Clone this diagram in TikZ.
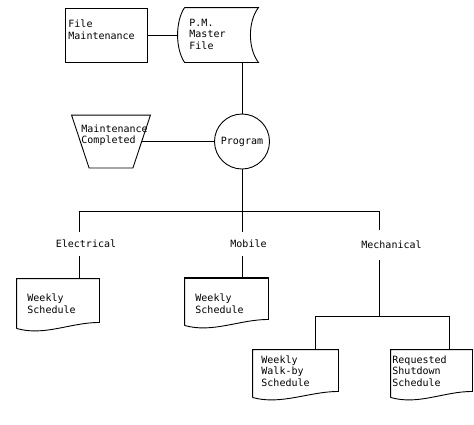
\documentclass[tikz,border=0pt]{standalone}
\usepackage{fontspec}
\setmonofont{DejaVu Sans Mono}
\usepackage{tikz}
\usetikzlibrary{shapes,positioning,calc}

% document symbol (wavy bottom)
\newcommand{\docoutline}[1]{%
  \draw (#1.south west) -- (#1.north west) -- (#1.north east)
    -- ([yshift=6pt]#1.south east)
    .. controls ([xshift=-29pt,yshift=6pt]#1.south east) and ([xshift=28pt,yshift=-8pt]#1.south west) .. (#1.south west);}
% stored data symbol
\newcommand{\storeoutline}[1]{%
  \draw ([xshift=7pt]#1.north west) -- (#1.north east)
    .. controls ([xshift=-10.7pt,yshift=-14pt]#1.north east) and ([xshift=-10.7pt,yshift=14pt]#1.south east) .. (#1.south east)
    -- ([xshift=7pt]#1.south west)
    .. controls ([xshift=-2.3pt,yshift=14pt]#1.south west) and ([xshift=-2.3pt,yshift=-14pt]#1.north west) .. ([xshift=7pt]#1.north west);}
% manual operation symbol
\newcommand{\manualoutline}[1]{%
  \draw (#1.north west) -- (#1.north east) -- ([xshift=-17.5pt]#1.south east)
    -- ([xshift=17.5pt]#1.south west) -- cycle;}

\begin{document}
\begin{tikzpicture}[x=1pt, y=-1pt, line width=0.9pt,
    box/.style={draw, minimum width=82pt, minimum height=54pt, inner sep=0pt},
    store/.style={minimum width=80pt, minimum height=54pt, inner sep=0pt},
    doc/.style={minimum width=82pt, minimum height=49pt, inner sep=0pt},
    manual/.style={minimum width=78pt, minimum height=52pt, inner sep=0pt},
    proc/.style={circle, draw, minimum size=55pt, inner sep=0pt, font=\ttfamily\fontsize{10}{11.7}\selectfont},
    txt/.style={font=\ttfamily\fontsize{10}{11.7}\selectfont, align=left, inner sep=0pt, anchor=north west},
    tag/.style={font=\ttfamily\fontsize{10}{11.7}\selectfont, minimum height=24pt, inner sep=0pt}]
    \useasboundingbox (0,0) rectangle (474,424);

    % top row
    \node[box] (fm) at (106,35) {};
    \node[txt] (fmtxt) at (68,19.5) {File\\Maintenance};
    \node[store] (pm) at (218,35) {};
    \storeoutline{pm}
    \node[txt] (pmtxt) at (189,18.5) {P.M.\\Master\\File};
    \draw (fm) -- (pm);

    % program
    \node[proc] (prog) at (242,141.5) {Program};
    \node[manual] (mc) at (111,141.5) {};
    \manualoutline{mc}
    \node[txt] (mctxt) at (81,124) {Maintenance\\Completed};
    \draw (pm.south -| prog) -- (prog);
    \draw ([xshift=-8.75pt]mc.east) -- (prog);

    % branches
    \coordinate (busE) at (79,211);
    \coordinate (busM) at (242,211);
    \coordinate (busK) at (379,211);
    \draw (prog) -- (busM);
    \draw (busE) -- (busK);

    \node[tag] (elec) at (86,244) {Electrical};
    \node[tag] (mob) at (248.5,244) {Mobile};
    \node[tag, minimum height=30pt] (mech) at (391.5,245) {Mechanical};

    \node[doc] (wsE) at (58,303.5) {};
    \docoutline{wsE}
    \node[txt] (wsEtxt) at (27,293.5) {Weekly\\Schedule};
    \node[doc, minimum width=83pt, minimum height=47pt] (wsM) at (226.5,301.5) {};
    \docoutline{wsM}
    \draw[line width=2pt] (wsM.north west) -- (wsM.north east);
    \node[txt] (wsMtxt) at (195,293.5) {Weekly\\Schedule};

    \draw (busE) -- (busE |- elec.north);
    \draw (busE |- elec.south) -- (busE |- wsE.north);
    \draw (busM) -- (busM |- mob.north);
    \draw (busM |- mob.south) -- (busM |- wsM.north);
    \draw (busK) -- (busK |- mech.north);

    % mechanical
    \coordinate (subM) at (379,316);
    \coordinate (subL) at (315,316);
    \coordinate (subR) at (449,316);
    \draw (busK |- mech.south) -- (subM);
    \draw (subL) -- (subR);

    \node[doc, minimum width=85pt, minimum height=47pt] (wwb) at (295.5,373.5) {};
    \docoutline{wwb}
    \node[txt] (wwbtxt) at (261,355) {Weekly\\Walk-by\\Schedule};
    \node[doc, minimum width=81pt, minimum height=47pt] (rsd) at (431.5,373.5) {};
    \docoutline{rsd}
    \node[txt] (rsdtxt) at (392,355) {Requested\\Shutdown\\Schedule};
    \draw (subL) -- (subL |- wwb.north);
    \draw (subR) -- (subR |- rsd.north);
\end{tikzpicture}
\end{document}
